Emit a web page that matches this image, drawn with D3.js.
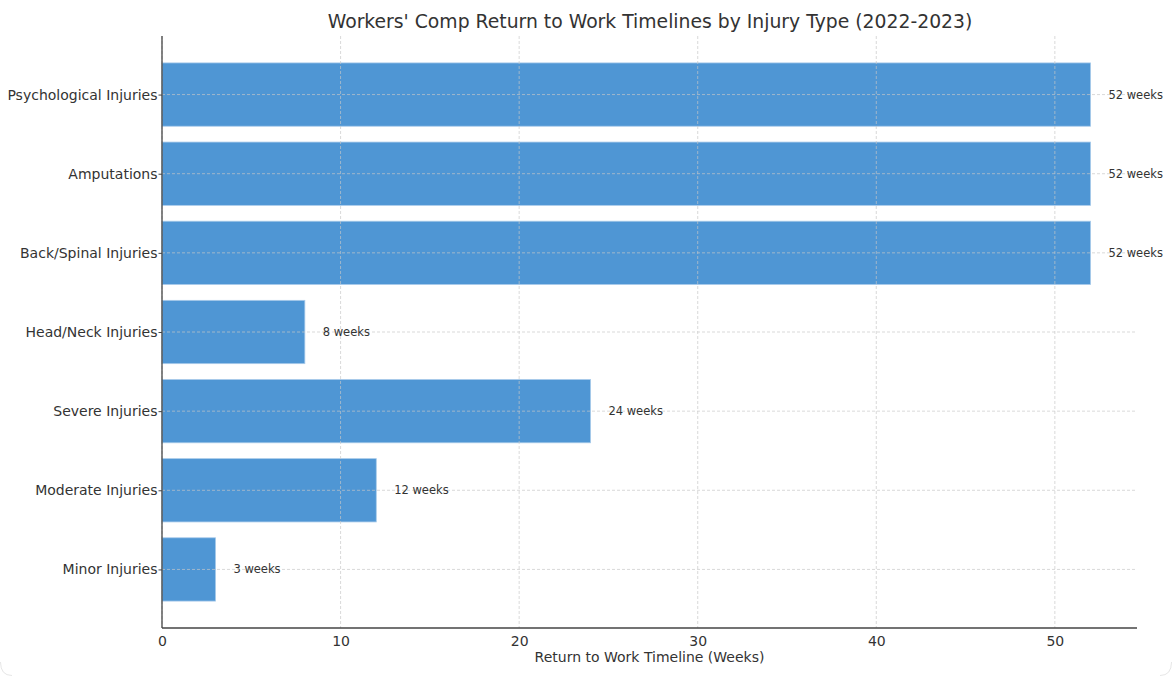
<!DOCTYPE html>
<html><head><meta charset="utf-8">
<script src="https://cdn.jsdelivr.net/npm/d3@7"></script>
<style>
html,body{margin:0;padding:0;background:#fff;}
svg{display:block;font-family:"DejaVu Sans",sans-serif;}
</style></head>
<body>
<div id="chart"></div>
<script>
const categories = ["Psychological Injuries","Amputations","Back/Spinal Injuries","Head/Neck Injuries","Severe Injuries","Moderate Injuries","Minor Injuries"];
const weeks = [52,52,52,8,24,12,3];
const xTicks = [0,10,20,30,40,50];
const title = "Workers' Comp Return to Work Timelines by Injury Type (2022-2023)";
const xLabel = "Return to Work Timeline (Weeks)";

const W = 1172, H = 676;
const m = {left:162, right:1137, top:36, bottom:628};
const svg = d3.select("#chart").append("svg").attr("width",W).attr("height",H);

svg.append("path").attr("fill","none").attr("stroke","#e6e6e6").attr("stroke-width",1)
  .attr("d",`M0.5,662 Q0.5,675.5 12,675.5 M${W-12},675.5 Q${W-0.5},675.5 ${W-0.5},662`);

const x = d3.scaleLinear().domain([0, d3.max(weeks)*1.05]).range([m.left, m.right]);
const n = categories.length;
const y = d3.scaleLinear().domain([-0.74, n-1+0.74]).range([m.top, m.bottom]);
const barH = Math.abs(y(0.4)-y(-0.4));

svg.append("g").selectAll("rect.bar").data(categories).join("rect").attr("class","bar")
  .attr("x", x(0)).attr("y", (d,i)=>y(i)-barH/2)
  .attr("width", (d,i)=>x(weeks[i])-x(0)).attr("height", barH)
  .attr("fill","#4f96d4").attr("stroke","#a9cbea").attr("stroke-width",0.8);

const grid = svg.append("g").attr("stroke","#c8c8c8").attr("stroke-width",0.8).attr("stroke-dasharray","3,2").attr("opacity",0.85);
grid.selectAll("line.gx").data(xTicks).join("line")
  .attr("x1",d=>x(d)).attr("x2",d=>x(d)).attr("y1",m.top).attr("y2",m.bottom);
grid.selectAll("line.gy").data(categories).join("line")
  .attr("y1",(d,i)=>y(i)).attr("y2",(d,i)=>y(i)).attr("x1",m.left).attr("x2",m.right);

svg.selectAll("text.val").data(categories).join("text").attr("class","val")
  .attr("x",(d,i)=>x(weeks[i]+1)).attr("y",(d,i)=>y(i))
  .attr("dy","0.35em").attr("font-size",11.5).attr("fill","#333")
  .text((d,i)=>weeks[i]+" weeks");

const xAxis = d3.axisBottom(x).tickValues(xTicks).tickSize(0).tickPadding(8);
const xg = svg.append("g").attr("transform",`translate(0,${m.bottom})`).call(xAxis);
xg.select(".domain").attr("stroke","#444").attr("stroke-width",1.3).attr("d",`M${m.left},0H${m.right}`);
xg.selectAll("text").attr("font-size",14).attr("fill","#333").attr("font-family","DejaVu Sans");

const yAxis = d3.axisLeft(y).tickValues(d3.range(n)).tickFormat(i=>categories[i]).tickSize(3.5).tickPadding(1);
const yg = svg.append("g").attr("transform",`translate(${m.left},0)`).call(yAxis);
yg.select(".domain").attr("stroke","#444").attr("stroke-width",1.3).attr("d",`M0,${m.top}V${m.bottom}`);
yg.selectAll(".tick line").attr("stroke","#444");
yg.selectAll("text").attr("font-size",14).attr("fill","#333").attr("font-family","DejaVu Sans");

svg.append("text").attr("x",(m.left+m.right)/2).attr("y",662).attr("text-anchor","middle")
  .attr("font-size",14).attr("fill","#333").text(xLabel);
svg.append("text").attr("x",650).attr("y",28).attr("text-anchor","middle")
  .attr("font-size",18.8).attr("fill","#333").text(title);
</script>
</body></html>
